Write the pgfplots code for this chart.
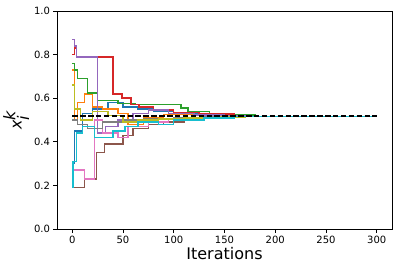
\documentclass[border=0pt]{standalone}
\usepackage{fontspec}
\setmainfont{DejaVu Sans}
\usepackage{pgfplots}
\pgfplotsset{compat=1.18}

\definecolor{tabblue}{HTML}{1F77B4}
\definecolor{taborange}{HTML}{FF7F0E}
\definecolor{tabgreen}{HTML}{2CA02C}
\definecolor{tabred}{HTML}{D62728}
\definecolor{tabpurple}{HTML}{9467BD}
\definecolor{tabbrown}{HTML}{8C564B}
\definecolor{tabpink}{HTML}{E377C2}
\definecolor{tabgray}{HTML}{7F7F7F}
\definecolor{tabolive}{HTML}{BCBD22}
\definecolor{tabcyan}{HTML}{17BECF}

\begin{document}
\begin{tikzpicture}
\path[use as bounding box] (-57pt,-42pt) rectangle (345pt,229pt);
\begin{axis}[
  at={(0pt,0pt)}, anchor=south west,
  scale only axis,
  width=335pt, height=218pt,
  xmin=-15, xmax=315, ymin=0, ymax=1,
  xtick={0,50,...,300},
  ytick={0,0.2,0.4,0.6,0.8,1.0},
  yticklabel style={/pgf/number format/.cd,fixed,fixed zerofill,precision=1},
  /pgf/number format/assume math mode=true,
  ticklabel style={font=\fontsize{10}{12}\selectfont},
  tick align=outside, major tick length=3.5pt,
  tick style={black, line width=0.8pt},
  xtick pos=bottom, ytick pos=left,
  axis line style={line width=0.8pt},
  xlabel={Iterations},
  xlabel style={font=\fontsize{16}{19}\selectfont, yshift=3pt},
  ylabel={$\textit{x}_{\textit{i}}^{\textit{k}}$},
  ylabel style={font=\fontsize{16}{19}\selectfont, yshift=-2pt},
  every axis plot/.append style={const plot, line width=1.5pt, line join=miter},
]
% node values, one series per agent
\addplot[tabblue] coordinates {(0,0.30)(2,0.45)(10,0.53)(20,0.55)(35,0.58)(50,0.56)(65,0.55)(80,0.54)(100,0.53)(130,0.52)(160,0.517)(300,0.517)};
\addplot[taborange] coordinates {(0,0.73)(2,0.50)(5,0.58)(12,0.62)(20,0.56)(30,0.55)(45,0.53)(55,0.48)(70,0.51)(90,0.525)(120,0.52)(150,0.517)(300,0.517)};
\addplot[tabgreen] coordinates {(0,0.76)(2,0.73)(5,0.69)(15,0.625)(25,0.59)(45,0.575)(62,0.57)(90,0.57)(107,0.555)(114,0.54)(135,0.53)(160,0.522)(180,0.517)(300,0.517)};
\addplot[tabred] coordinates {(0,0.80)(2,0.83)(4,0.79)(40,0.62)(49,0.60)(58,0.57)(66,0.56)(80,0.545)(100,0.535)(125,0.528)(160,0.517)(300,0.517)};
\addplot[tabpurple] coordinates {(0,0.87)(2,0.84)(4,0.79)(25,0.44)(33,0.47)(45,0.50)(60,0.53)(75,0.545)(95,0.53)(120,0.522)(150,0.518)(170,0.517)(300,0.517)};
\addplot[tabbrown] coordinates {(0,0.19)(12,0.23)(24,0.35)(32,0.39)(50,0.43)(60,0.46)(75,0.48)(90,0.49)(110,0.50)(130,0.51)(160,0.517)(300,0.517)};
\addplot[tabpink] coordinates {(0,0.27)(12,0.23)(22,0.50)(30,0.44)(45,0.42)(55,0.47)(75,0.49)(95,0.505)(120,0.512)(150,0.517)(300,0.517)};
\addplot[tabgray] coordinates {(0,0.50)(5,0.48)(15,0.46)(30,0.49)(50,0.50)(70,0.505)(100,0.51)(130,0.515)(160,0.517)(300,0.517)};
\addplot[tabolive] coordinates {(0,0.66)(2,0.55)(8,0.50)(20,0.54)(35,0.52)(50,0.49)(65,0.50)(85,0.505)(110,0.51)(140,0.514)(170,0.517)(300,0.517)};
\addplot[tabcyan] coordinates {(0,0.19)(1,0.31)(4,0.44)(10,0.47)(22,0.42)(40,0.45)(52,0.47)(65,0.49)(85,0.48)(100,0.50)(130,0.51)(160,0.517)(300,0.517)};
% average of the initial values
\addplot[black, line width=2pt, dash pattern=on 5.5pt off 2.4pt] coordinates {(0,0.517)(300,0.517)};
\end{axis}
\end{tikzpicture}
\end{document}
